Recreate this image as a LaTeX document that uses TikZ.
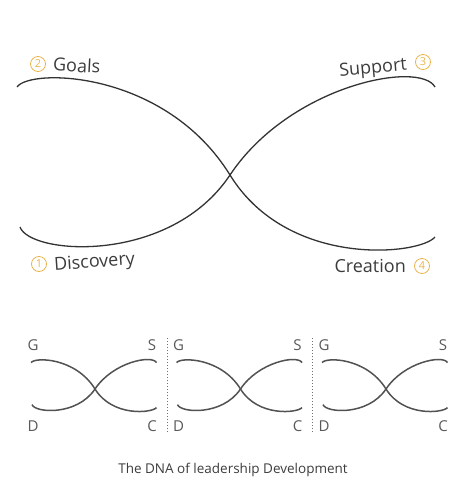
\documentclass[tikz,border=0pt]{standalone}
\usepackage{fontspec}
\setmainfont{Open Sans}
\usetikzlibrary{calc}
\definecolor{strand}{HTML}{333333}
\definecolor{txtgray}{HTML}{3C3C3C}
\definecolor{gold}{HTML}{E9B44C}
\tikzset{
  strandline/.style={line width=1.3pt, color=strand},
  smallstrand/.style={line width=1.5pt, color=strand!85},
  stepnum/.style={circle, draw=gold, text=gold, line width=0.8pt, inner sep=0pt, minimum size=15pt, font=\fontsize{11}{11}\selectfont},
  biglabel/.style={text=txtgray, font=\fontsize{18}{18}\selectfont, inner sep=0pt},
  smalllabel/.style={text=txtgray!85, font=\fontsize{15}{15}\selectfont, inner sep=0pt},
  divider/.style={dotted, line width=1pt, color=strand!70},
}
% two strands, crossing at the origin
\def\dnastrands[#1]{%
  \draw[#1] (-213,-88) .. controls (-200,-107) and (-65,-105) .. (0,0) .. controls (58,94) and (190,80) .. (205,62);
  \draw[#1] (-210,52) .. controls (-200,80) and (-60,90) .. (0,0) .. controls (60,-90) and (190,-115) .. (205,-88);}

\begin{document}
\begin{tikzpicture}[x=1pt,y=-1pt]
			%%%%% START %%%%%
			\useasboundingbox (0,0) rectangle (474,504);
			
			\begin{scope}[shift={(230,175)}]
			\dnastrands[strandline]
			\end{scope}
			
			\node[stepnum] (two) at (38,64) {2};
			\node[biglabel, anchor=west, rotate=-3] (goals) at (53,64) {Goals};
			\node[biglabel, anchor=east, rotate=5] (support) at (407,66) {Support};
			\node[stepnum] (three) at (423,62) {3};
			\node[stepnum] (one) at (39,264) {1};
			\node[biglabel, anchor=west, rotate=4] (discovery) at (54,266) {Discovery};
			\node[biglabel, anchor=east] (creation) at (406,266) {Creation};
			\node[stepnum] (four) at (422,266) {4};
			
			\foreach \cx [count=\i] in {95,240.5,386} {
				\begin{scope}[shift={(\cx,389)}, scale=0.3]
				\dnastrands[smallstrand]
				\end{scope}
				\node[smalllabel] (G\i) at (\cx-62,345) {G};
				\node[smalllabel] (S\i) at (\cx+57,345) {S};
				\node[smalllabel] (D\i) at (\cx-62,426) {D};
				\node[smalllabel] (C\i) at (\cx+57,426) {C};
			}
			
			\coordinate (cut1top) at (167,338);
			\coordinate (cut1bot) at (167,432);
			\coordinate (cut2top) at (312,338);
			\coordinate (cut2bot) at (312,432);
			\draw[divider] (cut1top) -- (cut1bot);
			\draw[divider] (cut2top) -- (cut2bot);
			
			\node[text=txtgray, font=\fontsize{13.5}{13.5}\selectfont] (caption) at (233,470) {The DNA of leadership Development};
			%%%%% END %%%%%
\end{tikzpicture}
\end{document}
